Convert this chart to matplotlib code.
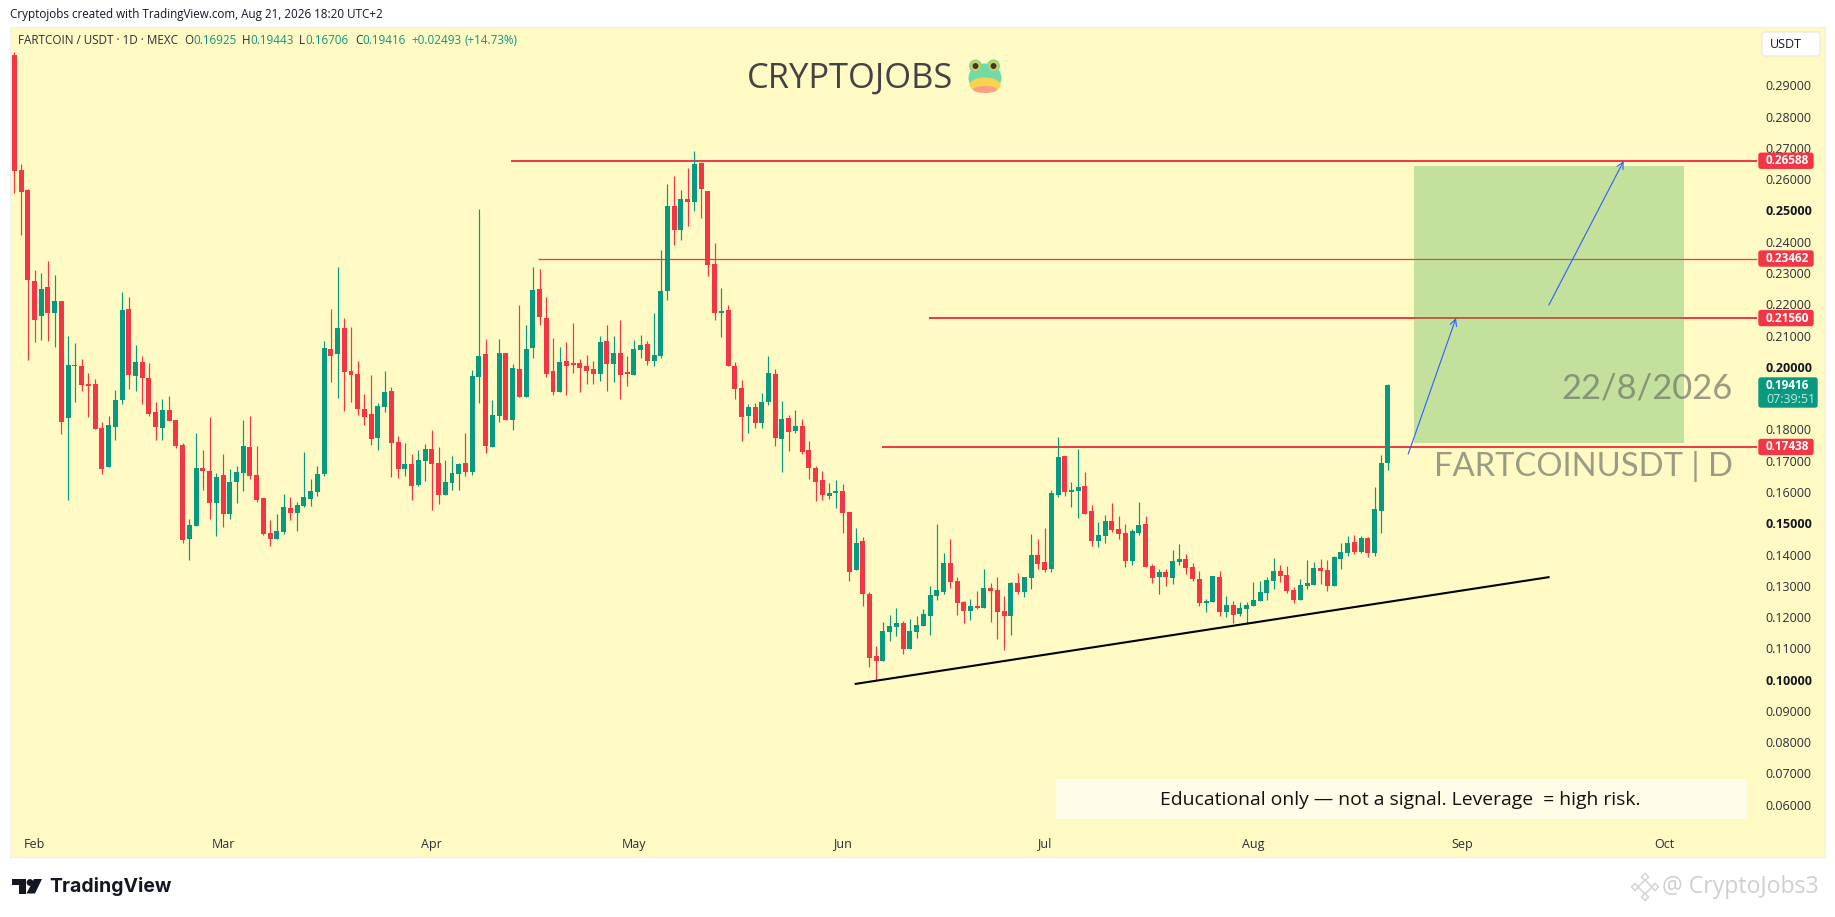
import matplotlib
matplotlib.use('Agg')
import matplotlib.pyplot as plt
from matplotlib.patches import Rectangle, FancyBboxPatch, Ellipse, Circle, Polygon

# ==== daily candles, Jan 29 -> Aug 21 ====
opens = [
    0.2997, 0.2629, 0.2565, 0.2275, 0.2161, 0.2255, 0.2173, 0.2210, 0.1838, 0.2003,
    0.2003, 0.1944, 0.1944, 0.1804, 0.1681, 0.1808, 0.1894, 0.2184, 0.1971, 0.2015,
    0.1964, 0.1855, 0.1805, 0.1862, 0.1829, 0.1750, 0.1450, 0.1492, 0.1676, 0.1667,
    0.1565, 0.1654, 0.1531, 0.1632, 0.1662, 0.1744, 0.1654, 0.1581, 0.1468, 0.1450,
    0.1473, 0.1548, 0.1533, 0.1556, 0.1578, 0.1600, 0.1657, 0.2057, 0.2042, 0.2124,
    0.1986, 0.1977, 0.1865, 0.1849, 0.1772, 0.1872, 0.1922, 0.1760, 0.1674, 0.1689,
    0.1622, 0.1700, 0.1738, 0.1693, 0.1591, 0.1629, 0.1658, 0.1693, 0.1664, 0.1968,
    0.2041, 0.1745, 0.1844, 0.2044, 0.1831, 0.1992, 0.1904, 0.2059, 0.2248, 0.2156,
    0.1986, 0.1920, 0.2018, 0.2012, 0.2012, 0.2002, 0.1992, 0.1978, 0.2083, 0.2010,
    0.2044, 0.1980, 0.1975, 0.2055, 0.2073, 0.2019, 0.2035, 0.2241, 0.2514, 0.2439,
    0.2537, 0.2528, 0.2652, 0.2563, 0.2329, 0.2173, 0.2182, 0.2002, 0.1933, 0.1844,
    0.1871, 0.1821, 0.1886, 0.1976, 0.1770, 0.1836, 0.1794, 0.1810, 0.1734, 0.1677,
    0.1638, 0.1588, 0.1596, 0.1603, 0.1536, 0.1349, 0.1443, 0.1273, 0.1075, 0.1058,
    0.1153, 0.1169, 0.1181, 0.1098, 0.1152, 0.1171, 0.1203, 0.1267, 0.1280, 0.1373,
    0.1315, 0.1248, 0.1219, 0.1235, 0.1229, 0.1293, 0.1286, 0.1219, 0.1203, 0.1309,
    0.1280, 0.1325, 0.1398, 0.1376, 0.1354, 0.1590, 0.1715, 0.1600, 0.1603, 0.1619,
    0.1539, 0.1443, 0.1459, 0.1507, 0.1482, 0.1469, 0.1379, 0.1469, 0.1497, 0.1363,
    0.1328, 0.1344, 0.1325, 0.1376, 0.1386, 0.1360, 0.1322, 0.1245, 0.1248, 0.1328,
    0.1216, 0.1239, 0.1210, 0.1226, 0.1235, 0.1251, 0.1277, 0.1315, 0.1347, 0.1334,
    0.1286, 0.1254, 0.1299, 0.1302, 0.1357, 0.1350, 0.1299, 0.1386, 0.1405, 0.1440,
    0.1408, 0.1453, 0.1405, 0.1539, 0.16925]
highs = [
    0.3008, 0.2650, 0.2568, 0.2309, 0.2300, 0.2337, 0.2293, 0.2210, 0.2098, 0.2076,
    0.2025, 0.1980, 0.1961, 0.1823, 0.1843, 0.1926, 0.2239, 0.2223, 0.2069, 0.2035,
    0.2012, 0.1887, 0.1897, 0.1906, 0.1829, 0.1756, 0.1514, 0.1788, 0.1734, 0.1839,
    0.1660, 0.1722, 0.1673, 0.1682, 0.1829, 0.1843, 0.1746, 0.1581, 0.1510, 0.1530,
    0.1593, 0.1583, 0.1567, 0.1728, 0.1641, 0.1682, 0.2083, 0.2184, 0.2319, 0.2156,
    0.2127, 0.2019, 0.1912, 0.1974, 0.1884, 0.1986, 0.1936, 0.1779, 0.1756, 0.1722,
    0.1734, 0.1753, 0.1797, 0.1744, 0.1702, 0.1715, 0.1694, 0.1788, 0.1990, 0.2505,
    0.2089, 0.1893, 0.2089, 0.2044, 0.2008, 0.2198, 0.2133, 0.2319, 0.2313, 0.2224,
    0.2092, 0.2063, 0.2079, 0.2140, 0.2025, 0.2038, 0.2019, 0.2099, 0.2133, 0.2099,
    0.2149, 0.2034, 0.2085, 0.2101, 0.2083, 0.2172, 0.2373, 0.2585, 0.2610, 0.2565,
    0.2636, 0.2690, 0.2656, 0.2563, 0.2396, 0.2252, 0.2199, 0.2016, 0.1959, 0.1881,
    0.1885, 0.1917, 0.2034, 0.1992, 0.1891, 0.1846, 0.1862, 0.1833, 0.1762, 0.1682,
    0.1667, 0.1628, 0.1638, 0.1625, 0.1537, 0.1485, 0.1455, 0.1280, 0.1108, 0.1184,
    0.1207, 0.1229, 0.1186, 0.1193, 0.1205, 0.1226, 0.1299, 0.1497, 0.1405, 0.1449,
    0.1328, 0.1251, 0.1258, 0.1283, 0.1354, 0.1309, 0.1328, 0.1267, 0.1312, 0.1341,
    0.1328, 0.1465, 0.1449, 0.1485, 0.1605, 0.1776, 0.1715, 0.1632, 0.1737, 0.1664,
    0.1558, 0.1504, 0.1526, 0.1565, 0.1523, 0.1497, 0.1482, 0.1568, 0.1523, 0.1370,
    0.1354, 0.1354, 0.1414, 0.1434, 0.1402, 0.1373, 0.1347, 0.1258, 0.1331, 0.1347,
    0.1267, 0.1251, 0.1248, 0.1248, 0.1312, 0.1315, 0.1328, 0.1389, 0.1366, 0.1363,
    0.1296, 0.1322, 0.1382, 0.1376, 0.1386, 0.1382, 0.1395, 0.1437, 0.1459, 0.1462,
    0.1459, 0.1456, 0.1616, 0.1718, 0.19443]
lows = [
    0.2557, 0.2423, 0.2023, 0.2080, 0.2086, 0.2084, 0.2062, 0.1786, 0.1575, 0.1888,
    0.1923, 0.1840, 0.1802, 0.1658, 0.1681, 0.1767, 0.1882, 0.1930, 0.1923, 0.1882,
    0.1844, 0.1767, 0.1767, 0.1828, 0.1740, 0.1438, 0.1384, 0.1492, 0.1607, 0.1515,
    0.1460, 0.1489, 0.1515, 0.1565, 0.1604, 0.1640, 0.1569, 0.1462, 0.1428, 0.1450,
    0.1466, 0.1511, 0.1476, 0.1553, 0.1556, 0.1588, 0.1652, 0.1953, 0.1901, 0.1860,
    0.1888, 0.1845, 0.1815, 0.1751, 0.1735, 0.1856, 0.1648, 0.1646, 0.1652, 0.1575,
    0.1620, 0.1636, 0.1543, 0.1563, 0.1591, 0.1607, 0.1607, 0.1652, 0.1655, 0.1885,
    0.1726, 0.1745, 0.1825, 0.1831, 0.1799, 0.1904, 0.1904, 0.2027, 0.2134, 0.1966,
    0.1910, 0.1918, 0.1910, 0.1981, 0.1918, 0.1945, 0.1946, 0.1956, 0.1924, 0.1950,
    0.1898, 0.1940, 0.1975, 0.2029, 0.2007, 0.2003, 0.2029, 0.2215, 0.2390, 0.2407,
    0.2451, 0.2499, 0.2477, 0.2289, 0.2150, 0.2096, 0.2003, 0.1898, 0.1764, 0.1787,
    0.1805, 0.1805, 0.1879, 0.1748, 0.1664, 0.1732, 0.1787, 0.1720, 0.1643, 0.1572,
    0.1575, 0.1579, 0.1549, 0.1470, 0.1316, 0.1349, 0.1236, 0.1042, 0.0999, 0.1058,
    0.1125, 0.1141, 0.1083, 0.1098, 0.1134, 0.1171, 0.1143, 0.1255, 0.1274, 0.1293,
    0.1207, 0.1181, 0.1191, 0.1226, 0.1229, 0.1184, 0.1130, 0.1095, 0.1143, 0.1274,
    0.1264, 0.1290, 0.1354, 0.1344, 0.1344, 0.1584, 0.1587, 0.1552, 0.1517, 0.1529,
    0.1427, 0.1424, 0.1437, 0.1472, 0.1449, 0.1360, 0.1366, 0.1462, 0.1360, 0.1309,
    0.1274, 0.1299, 0.1306, 0.1366, 0.1338, 0.1315, 0.1235, 0.1216, 0.1248, 0.1203,
    0.1200, 0.1181, 0.1203, 0.1178, 0.1235, 0.1251, 0.1254, 0.1290, 0.1312, 0.1277,
    0.1245, 0.1254, 0.1290, 0.1302, 0.1306, 0.1283, 0.1299, 0.1354, 0.1395, 0.1402,
    0.1405, 0.1392, 0.1395, 0.1469, 0.16706]
closes = [
    0.2627, 0.2560, 0.2276, 0.2151, 0.2249, 0.2173, 0.2210, 0.1824, 0.2005, 0.2005,
    0.1943, 0.1939, 0.1802, 0.1674, 0.1813, 0.1894, 0.2182, 0.1975, 0.2015, 0.1963,
    0.1850, 0.1808, 0.1862, 0.1828, 0.1747, 0.1448, 0.1494, 0.1676, 0.1668, 0.1565,
    0.1647, 0.1531, 0.1631, 0.1664, 0.1746, 0.1652, 0.1575, 0.1466, 0.1450, 0.1474,
    0.1552, 0.1533, 0.1558, 0.1583, 0.1603, 0.1657, 0.2060, 0.2036, 0.2124, 0.1985,
    0.1975, 0.1864, 0.1840, 0.1770, 0.1875, 0.1920, 0.1757, 0.1674, 0.1689, 0.1620,
    0.1702, 0.1738, 0.1690, 0.1591, 0.1631, 0.1661, 0.1689, 0.1664, 0.1970, 0.2034,
    0.1748, 0.1846, 0.2044, 0.1831, 0.1996, 0.1904, 0.2057, 0.2246, 0.2158, 0.1978,
    0.1920, 0.2016, 0.2003, 0.2007, 0.1997, 0.1988, 0.1978, 0.2079, 0.2010, 0.2044,
    0.1975, 0.1978, 0.2057, 0.2069, 0.2019, 0.2038, 0.2242, 0.2514, 0.2439, 0.2537,
    0.2528, 0.2648, 0.2570, 0.2324, 0.2173, 0.2178, 0.2003, 0.1930, 0.1841, 0.1871,
    0.1821, 0.1887, 0.1980, 0.1773, 0.1833, 0.1793, 0.1810, 0.1729, 0.1678, 0.1633,
    0.1589, 0.1596, 0.1603, 0.1534, 0.1345, 0.1437, 0.1274, 0.1070, 0.1058, 0.1156,
    0.1172, 0.1181, 0.1098, 0.1155, 0.1175, 0.1210, 0.1270, 0.1287, 0.1373, 0.1312,
    0.1245, 0.1219, 0.1235, 0.1229, 0.1293, 0.1283, 0.1216, 0.1203, 0.1309, 0.1280,
    0.1328, 0.1398, 0.1370, 0.1350, 0.1597, 0.1712, 0.1600, 0.1606, 0.1616, 0.1529,
    0.1443, 0.1462, 0.1507, 0.1478, 0.1465, 0.1379, 0.1475, 0.1494, 0.1360, 0.1325,
    0.1344, 0.1328, 0.1379, 0.1386, 0.1357, 0.1322, 0.1245, 0.1251, 0.1331, 0.1216,
    0.1239, 0.1207, 0.1229, 0.1239, 0.1254, 0.1280, 0.1318, 0.1347, 0.1331, 0.1283,
    0.1254, 0.1302, 0.1309, 0.1357, 0.1347, 0.1299, 0.1392, 0.1408, 0.1437, 0.1408,
    0.1453, 0.1405, 0.1545, 0.1693, 0.19416]

# ==== drawn levels and annotations (price, starting day) ====
level_prices = [0.26588, 0.23462, 0.21560, 0.17438]
level_starts = [73.8, 77.8, 135.8, 128.9]
level_widths = [1.4, 0.9, 1.4, 1.4]
level_labels = ['0.26588', '0.23462', '0.21560', '0.17438']
trend_days = [124.8, 228.0]
trend_prices = [0.0986, 0.1328]
zone_days = [207.9, 247.9]
zone_prices = [0.1757, 0.2643]
arrow_a = [(207.0, 0.1721), (214.1, 0.2156)]
arrow_b = [(227.9, 0.2198), (239.0, 0.2658)]

price_ticks = [0.29, 0.28, 0.27, 0.26, 0.25, 0.24, 0.23, 0.22, 0.21, 0.20, 0.18, 0.17,
               0.16, 0.15, 0.14, 0.13, 0.12, 0.11, 0.10, 0.09, 0.08, 0.07, 0.06]
month_days = [3, 31, 62, 92, 123, 153, 184, 215, 245]
month_labels = ['Feb', 'Mar', 'Apr', 'May', 'Jun', 'Jul', 'Aug', 'Sep', 'Oct']

RED = '#f23645'
GREEN = '#089981'
YELLOW = '#fff9c4'
FONT = 'Open Sans'
plt.rcParams['font.family'] = [FONT, 'DejaVu Sans']

W, H = 1835, 917
fig = plt.figure(figsize=(W / 100, H / 100), dpi=100, facecolor='white')

# chart panel
px0, px1, py0, py1 = 10, 1825, 27, 857
ax = fig.add_axes([px0 / W, 1 - py1 / H, (px1 - px0) / W, (py1 - py0) / H], facecolor=YELLOW)
ax.set_xlim(-0.64, 268.9)
ax.set_ylim(0.0433, 0.30864)
for s in ax.spines.values():
    s.set_color('#f0f0ec')
    s.set_linewidth(1.0)

for p, start, lw in zip(level_prices, level_starts, level_widths):
    ax.plot([start, 258.8], [p, p], color=RED, lw=lw, zorder=2, solid_capstyle='butt')

days = list(range(len(opens)))
colors = [GREEN if c >= o else RED for o, c in zip(opens, closes)]
ax.vlines(days, lows, highs, colors=colors, lw=0.85, zorder=3)
body_low = [min(o, c) for o, c in zip(opens, closes)]
body_h = [max(abs(c - o), 0.0004) for o, c in zip(opens, closes)]
ax.bar(days, body_h, bottom=body_low, width=0.74, color=colors, linewidth=0, zorder=4)

ax.plot(trend_days, trend_prices, color='black', lw=1.5, zorder=5, solid_capstyle='butt')
ax.add_patch(Rectangle((zone_days[0], zone_prices[0]), zone_days[1] - zone_days[0],
                       zone_prices[1] - zone_prices[0], facecolor='#4caf50', alpha=0.33,
                       edgecolor='#4caf50', lw=0, zorder=5))
for a in (arrow_a, arrow_b):
    ax.annotate('', xy=a[1], xytext=a[0], zorder=6,
                arrowprops=dict(arrowstyle='->', color='#2962ff', lw=0.8, mutation_scale=12,
                                shrinkA=0, shrinkB=0))

ax.yaxis.tick_right()
ax.set_yticks(price_ticks)
ax.set_yticklabels(['%.5f' % p for p in price_ticks])
ax.tick_params(axis='y', length=0, direction='in', pad=-42.6, labelsize=9, labelcolor='#2a2e39')
for lab, p in zip(ax.get_yticklabels(), price_ticks):
    lab.set_horizontalalignment('left')
    if round(p * 100) % 5 == 0:
        lab.set_fontweight('bold')
        lab.set_color('#131722')
ax.set_xticks(month_days)
ax.set_xticklabels(month_labels)
ax.tick_params(axis='x', length=0, direction='in', pad=-14, labelsize=9, labelcolor='#2a2e39')

# overlay in image pixels for labels, badges, logos
ov = fig.add_axes([0, 0, 1, 1], zorder=10)
ov.set_xlim(0, W)
ov.set_ylim(H, 0)
ov.axis('off')


def label(x, y, s, size=9, color='#2a2e39', ha='left', **kw):
    return ov.text(x, y, s, fontsize=size, color=color, ha=ha, va='center', **kw)


label(10, 14.5, 'Cryptojobs created with TradingView.com, Aug 21, 2026 18:20 UTC+2', size=8.35, color='#131722')

label(18, 41, 'FARTCOIN / USDT · 1D · MEXC', size=8.4)
for x, s in zip([184, 242, 299, 355], ['O', 'H', 'L', 'C']):
    label(x, 41, s, size=8.4)
for x, s in zip([193, 250, 305, 362, 411, 464], ['0.16925', '0.19443', '0.16706', '0.19416', '+0.02493', '(+14.73%)']):
    label(x, 41, s, size=8.4, color=GREEN)

label(747, 79, 'CRYPTOJOBS', size=24.8, color='#434343')

# frog
ov.add_patch(Ellipse((985, 78), 33, 29, color='#6fdca8', lw=0))
ov.add_patch(Circle((975.5, 66), 6.5, color='#6fdca8', lw=0))
ov.add_patch(Circle((993.5, 66), 6.5, color='#6fdca8', lw=0))
ov.add_patch(Circle((975.5, 66), 5, color='#e8c84a', lw=0))
ov.add_patch(Circle((993.5, 66), 5, color='#e8c84a', lw=0))
ov.add_patch(Circle((975.5, 66), 3, color='#3a3a2e', lw=0))
ov.add_patch(Circle((993.5, 66), 3, color='#3a3a2e', lw=0))
ov.add_patch(Ellipse((985, 85), 31, 15, color='#f9d24e', lw=0))
ov.add_patch(Ellipse((985, 89.5), 24, 7, color='#f7a184', lw=0))

label(1733, 388, '22/8/2026', size=24.8, color='#6f7468', ha='right', alpha=0.7, family=['Lato', 'DejaVu Sans'])
label(1733, 467, 'FARTCOINUSDT | D', size=23.6, color='#6f7468', ha='right', alpha=0.7, family=['Lato', 'DejaVu Sans'])

# level badges on the price scale
for p, s in zip(level_prices, level_labels):
    yc = 85.3 + (0.29 - p) * 3128
    ov.add_patch(FancyBboxPatch((1759, yc - 7.5), 54, 15, boxstyle='round,pad=0,rounding_size=2',
                                facecolor=RED, edgecolor=RED, lw=1))
    label(1766, yc, s, size=8.5, color='white', fontweight='bold')

ov.add_patch(FancyBboxPatch((1759, 378), 58, 29, boxstyle='round,pad=0,rounding_size=2',
                            facecolor=GREEN, edgecolor=GREEN, lw=1))
label(1766, 385.5, '0.19416', size=8.5, color='white', fontweight='bold')
label(1766, 399.5, '07:39:51', color='#c4e8df')

ov.add_patch(FancyBboxPatch((1762, 32), 58, 24, boxstyle='round,pad=0,rounding_size=3',
                            facecolor='white', edgecolor='#eceae0', lw=1))
label(1770, 44, 'USDT', color='#131722')

# note box
ov.add_patch(Rectangle((1056, 779), 691, 40, facecolor='white', alpha=0.6, lw=0))
label(1400.5, 800, 'Educational only — not a signal. Leverage  = high risk.', size=13.95, color='#111111', ha='center')

# TradingView logo
ov.add_patch(Polygon([(12, 879), (26, 879), (26, 893.5), (19, 893.5), (19, 885), (12, 885)], color='#131722', lw=0))
ov.add_patch(Circle((30, 882.5), 3.4, color='#131722', lw=0))
ov.add_patch(Polygon([(34, 879), (42, 879), (35, 893.5), (26.5, 893.5)], color='#131722', lw=0))
label(49, 886.5, 'TradingView', size=14, color='#131722', fontweight='bold', family=['Inter', 'DejaVu Sans'])

# watermark
for cx, cy, r in [(1645, 887, 7), (1635, 887, 3.5), (1655, 887, 3.5), (1645, 877, 3.5), (1645, 897, 3.5)]:
    ov.add_patch(Polygon([(cx, cy - r), (cx + r, cy), (cx, cy + r), (cx - r, cy)], facecolor='none',
                         edgecolor='#d4d4d2', lw=1.1))
label(1662, 887, '@ CryptoJobs3', size=16.6, color='#cfcfcd')

fig.savefig('out.png', dpi=100, facecolor='white')
